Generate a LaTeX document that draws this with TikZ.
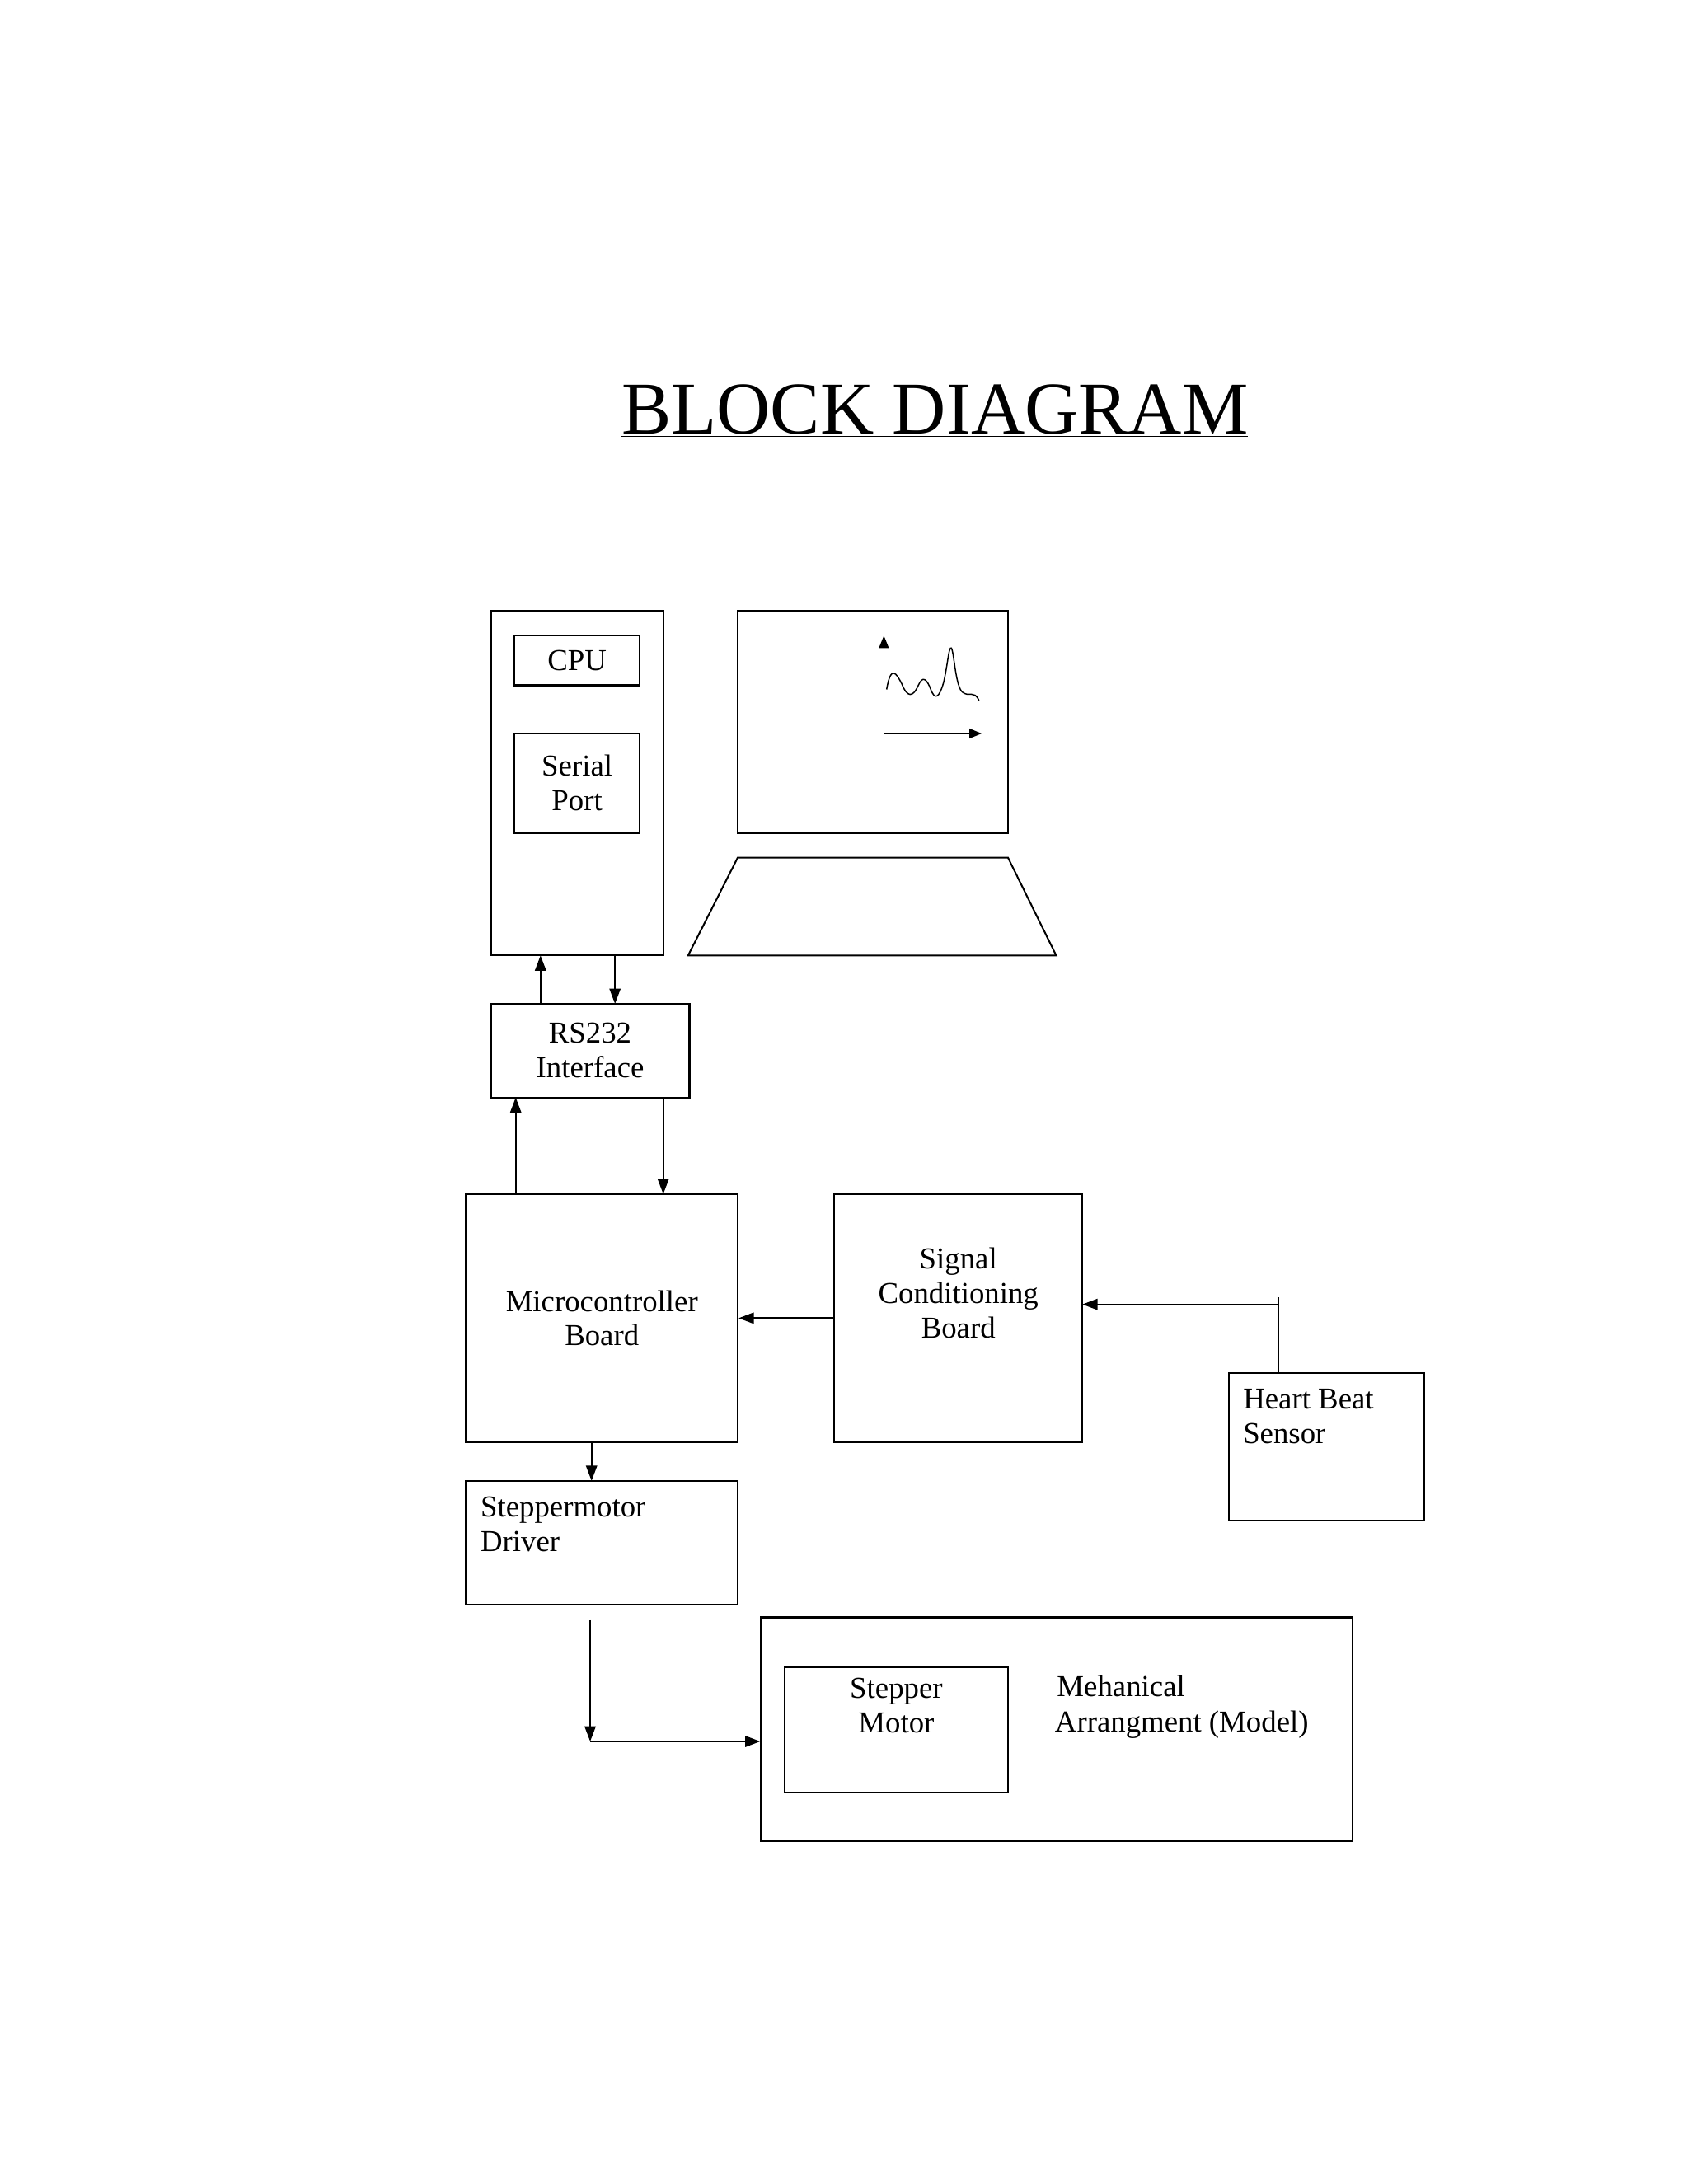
\documentclass[tikz,border=0pt]{standalone}
\usepackage{fontspec}
\setmainfont{Liberation Serif}
\usetikzlibrary{arrows.meta}
\begin{document}
\begin{tikzpicture}[x=1pt,y=-1pt,
  box/.style={draw,line width=1.3pt,rectangle,inner sep=0pt,align=center,font=\fontsize{22}{27}\selectfont},
  arr/.style={line width=1.2pt,-{Triangle[length=11pt,width=8pt]}},
  ln/.style={line width=1.2pt}]
\useasboundingbox (0,0) rectangle (1224,1584);
\node[font=\fontsize{54}{60}\selectfont] (title) at (678,298) {\underline{BLOCK DIAGRAM}};
% tower
\node[box,minimum width=125pt,minimum height=250pt] (tower) at (418.5,568) {};
\node[box,minimum width=91pt,minimum height=36pt] (cpu) at (418.5,479) {CPU};
\node[box,minimum width=91pt,minimum height=72pt] (serial) at (418.5,568) {Serial\\[-2pt]Port};
% monitor
\node[box,minimum width=196pt,minimum height=161pt] (mon) at (633,523.5) {};
\draw[ln] (535,622) -- (731,622) -- (766,693) -- (499,693) -- cycle;
\coordinate (o) at (641,532);
\draw[line width=1pt,-{Triangle[length=9pt,width=7pt]}] (o) -- (641,461);
\draw[line width=1pt,-{Triangle[length=9pt,width=7pt]}] (o) -- (712,532);
\draw[line width=0.9pt] (643,500) .. controls (646,482) and (650,488) .. (654,496)
  .. controls (658,506) and (662,506) .. (666,497) .. controls (669,490) and (672,492) .. (675,500)
  .. controls (678,508) and (681,506) .. (684,496) .. controls (687,485) and (688,468) .. (690,470)
  .. controls (692,474) and (693,498) .. (698,502) .. controls (703,506) and (706,500) .. (710,508);
% rs232
\node[box,minimum width=144pt,minimum height=68pt] (rs) at (428,762) {RS232\\[-2pt]Interface};
\draw[arr] (392,728) -- (392,693);
\draw[arr] (446,693) -- (446,728);
% micro
\node[box,minimum width=197pt,minimum height=180pt] (mc) at (436.5,956) {Microcontroller\\[-2pt]Board};
\draw[arr] (374,866) -- (374,796);
\draw[arr] (481,796) -- (481,866);
% signal
\node[box,minimum width=180pt,minimum height=180pt] (sig) at (695,956) {Signal\\[-2pt]Conditioning\\[-2pt]Board\\[10pt]};
\draw[arr] (sig.west |- 0,956) -- (mc.east |- 0,956);
% heart
\node[box,minimum width=142pt,minimum height=107pt] (hb) at (962,1049.5) {};
\node[font=\fontsize{22}{27}\selectfont,align=left,anchor=north west] (hbt) at (898,1004) {Heart Beat\\[-2pt]Sensor};
\coordinate (hbtop) at (927,946);
\draw[ln] (927,996) -- (927,941);
\draw[arr] (hbtop) -- (785,946);
% driver
\node[box,minimum width=197pt,minimum height=90pt] (drv) at (436.5,1119) {};
\node[font=\fontsize{22}{27}\selectfont,align=left,anchor=north west] (drvt) at (345,1082) {Steppermotor\\[-2pt]Driver};
\draw[arr] (429,1046) -- (429,1074);
% mech
\node[box,minimum width=429pt,minimum height=162pt] (mech) at (766.5,1254) {};
\node[box,minimum width=162pt,minimum height=91pt] (sm) at (650,1254.5) {Stepper\\[-2pt]Motor\\[8pt]};
\node[font=\fontsize{22}{27}\selectfont] (m1) at (813,1223) {Mehanical};
\node[font=\fontsize{22}{27}\selectfont] (m2) at (857,1251) {Arrangment (Model)};
\coordinate (c1) at (428,1175);
\coordinate (c2) at (428,1263);
\draw[arr] (c1) -- (c2);
\draw[arr] (c2) -- (mech.west |- c2);
\end{tikzpicture}
\end{document}
